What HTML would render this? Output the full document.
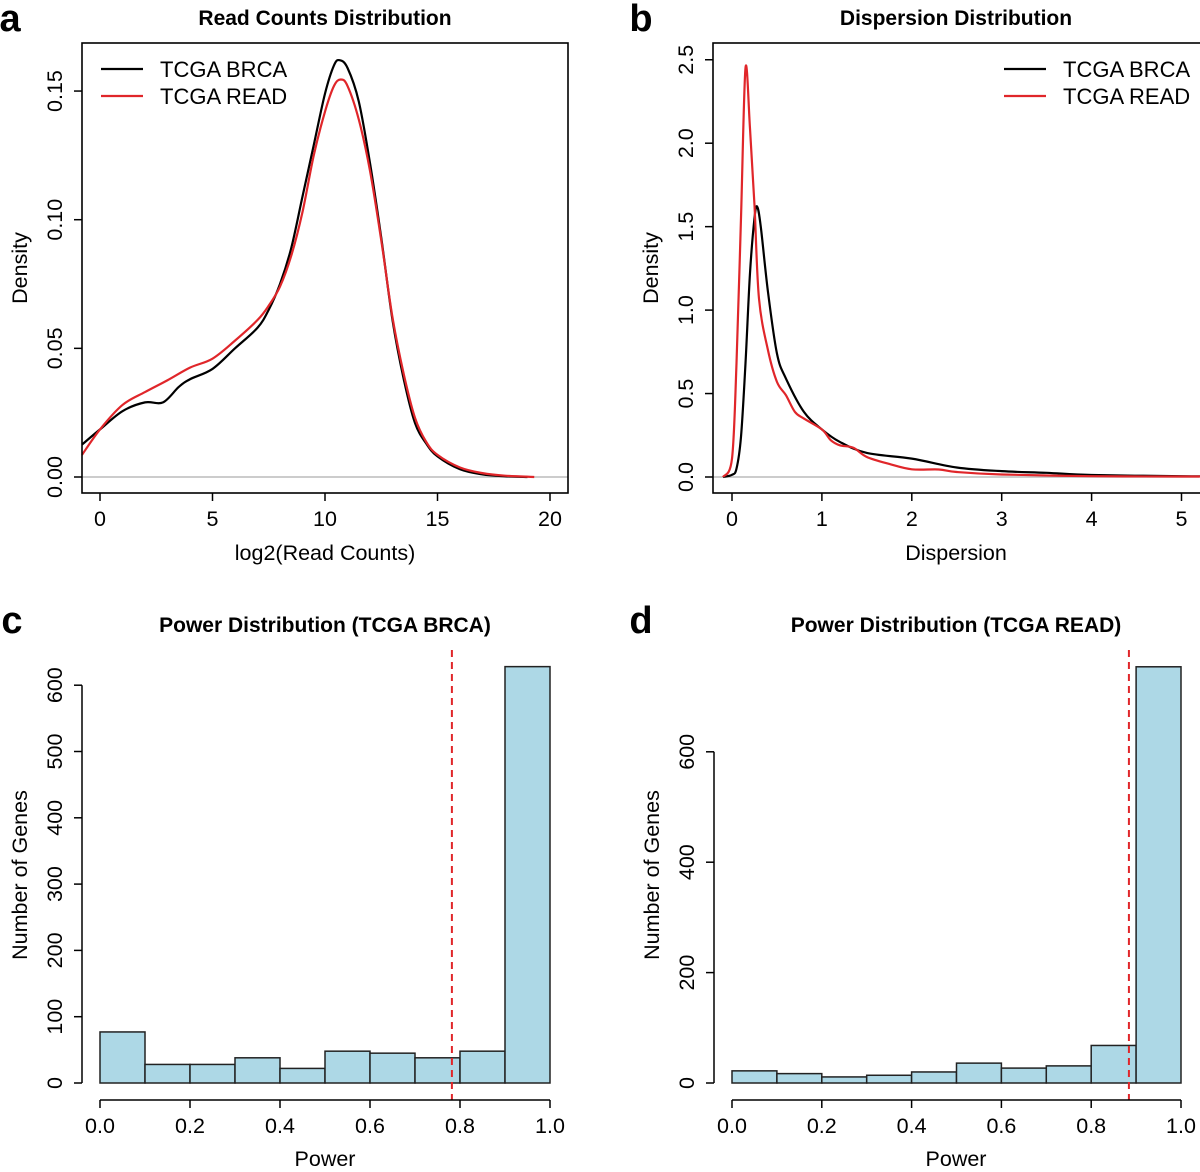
<!DOCTYPE html>
<html><head><meta charset="utf-8"><style>
body{margin:0;background:#fff}
svg text{font-family:"Liberation Sans",Arial,sans-serif;fill:#000}
</style></head><body>
<svg id="fig" width="1200" height="1167" viewBox="0 0 1200 1167" xmlns="http://www.w3.org/2000/svg"></svg>
<script>
// Panel a data
const aX = [-0.8,0,1,2,2.8,3.5,4,5,6,7,7.5,8,8.5,9,9.5,10,10.4,10.65,11,11.5,12,12.5,13,13.5,14,14.5,15,16,17,18,19];
const aBRCA = [0.0126,0.0185,0.0256,0.029,0.029,0.035,0.038,0.042,0.050,0.058,0.065,0.075,0.089,0.109,0.129,0.149,0.160,0.162,0.159,0.146,0.122,0.093,0.061,0.038,0.021,0.013,0.008,0.003,0.001,0.0003,0];
const aX2 = [-0.8,0,1,2,3,4,5,6,7,7.5,8,8.5,9,9.5,10,10.4,10.7,11,11.5,12,12.5,13,13.5,14,14.5,15,16,17,18,19.3];
const aREAD = [0.0086,0.0185,0.028,0.033,0.0376,0.0425,0.046,0.053,0.061,0.0666,0.074,0.086,0.103,0.125,0.142,0.152,0.1545,0.152,0.139,0.119,0.092,0.062,0.040,0.023,0.0136,0.0086,0.0037,0.0015,0.0005,0];
const aXTicks = [0,5,10,15,20];
const aYTicks = ["0.00","0.05","0.10","0.15"];
// Panel b data
const bX = [-0.1,0,0.05,0.1,0.15,0.2,0.25,0.28,0.32,0.4,0.5,0.6,0.8,1.0,1.2,1.5,2.0,2.5,3,3.5,4,5,5.3];
const bBRCA = [0,0.013,0.05,0.24,0.68,1.22,1.55,1.62,1.50,1.11,0.74,0.59,0.39,0.285,0.21,0.144,0.11,0.057,0.035,0.025,0.012,0.005,0.004];
const bX2 = [-0.1,0,0.05,0.1,0.15,0.2,0.25,0.3,0.4,0.5,0.6,0.7,0.8,1.0,1.1,1.2,1.35,1.5,1.75,2,2.3,2.5,3,4,5,5.3];
const bREAD = [0,0.11,0.68,1.55,2.45,2.09,1.63,1.07,0.76,0.57,0.49,0.39,0.35,0.285,0.22,0.19,0.175,0.12,0.078,0.046,0.045,0.03,0.015,0.005,0.003,0.003];
const bXTicks = [0,1,2,3,4,5];
const bYTicks = ["0.0","0.5","1.0","1.5","2.0","2.5"];
// Panel c/d data
const binStarts = [0,0.1,0.2,0.3,0.4,0.5,0.6,0.7,0.8,0.9];
const cCounts = [77,28,28,38,22,48,45,38,48,628];
const dCounts = [22,17,11,14,20,36,27,31,68,754];
const cThreshold = 0.782;
const dThreshold = 0.884;
const histXTicks = ["0.0","0.2","0.4","0.6","0.8","1.0"];
const cYTicks = [0,100,200,300,400,500,600];
const dYTicks = [0,200,400,600];

const NS="http://www.w3.org/2000/svg";
const svg=document.getElementById('fig');
const FT=21.5, FL=22, FTI=21;
function el(tag,attrs,parent,text){const e=document.createElementNS(NS,tag);for(const k in attrs)e.setAttribute(k,attrs[k]);if(text!==undefined)e.textContent=text;(parent||svg).appendChild(e);return e;}
function smooth(pts){let d='M'+pts[0][0]+','+pts[0][1];for(let i=0;i<pts.length-1;i++){const p0=pts[i-1]||pts[i],p1=pts[i],p2=pts[i+1],p3=pts[i+2]||p2;const c1x=p1[0]+(p2[0]-p0[0])/6,c1y=p1[1]+(p2[1]-p0[1])/6,c2x=p2[0]-(p3[0]-p1[0])/6,c2y=p2[1]-(p3[1]-p1[1])/6;d+=' C'+c1x+','+c1y+' '+c2x+','+c2y+' '+p2[0]+','+p2[1];}return d;}
function rotText(x,y,t,size,name){const e=el('text',{x:x,y:y,'font-size':size,'text-anchor':'middle',transform:'rotate(-90 '+x+' '+y+')'},svg,t);return e;}
function txt(x,y,t,size,name,extra){const a={x:x,y:y,'font-size':size,'text-anchor':'middle'};Object.assign(a,extra||{});const e=el('text',a,svg,t);return e;}

// ---- Panel a ----
(function(){
const sx=v=>100+v*22.5, sy=v=>477-v*2573;
txt(10,31,'a',38,'panel-label-a',{'font-weight':'bold'});
txt(325,25,'Read Counts Distribution',FTI,'chart-title-a',{'font-weight':'bold'});
el('line',{x1:82,x2:568,y1:sy(0),y2:sy(0),stroke:'#bbb','stroke-width':1.5});
let p=el('path',{d:smooth(aX.map((x,i)=>[sx(x),sy(aBRCA[i])])),fill:'none',stroke:'#000','stroke-width':2.2});

p=el('path',{d:smooth(aX2.map((x,i)=>[sx(x),sy(aREAD[i])])),fill:'none',stroke:'#e0262a','stroke-width':2.2});

const b=el('rect',{x:82,y:43,width:486,height:450,fill:'none',stroke:'#000','stroke-width':1.6});

aXTicks.forEach(t=>{el('line',{x1:sx(t),x2:sx(t),y1:493,y2:501,stroke:'#000','stroke-width':1.5});txt(sx(t),526,String(t),FT,'x-tick-a');});
aYTicks.forEach(t=>{const y=sy(parseFloat(t));el('line',{x1:74,x2:82,y1:y,y2:y,stroke:'#000','stroke-width':1.5});rotText(62,y,t,FT,'y-tick-a');});
txt(325,560,'log2(Read Counts)',FT,'x-axis-title-a');
rotText(27,268,'Density',FT,'y-axis-title-a');
el('line',{x1:101,x2:143,y1:69,y2:69,stroke:'#000','stroke-width':2.2});
el('line',{x1:101,x2:143,y1:96,y2:96,stroke:'#e0262a','stroke-width':2.2});
txt(160,77,'TCGA BRCA',FL,'legend-entry-brca-a',{'text-anchor':'start'});
txt(160,104,'TCGA READ',FL,'legend-entry-read-a',{'text-anchor':'start'});
})();

// ---- Panel b ----
(function(){
const sx=v=>732+v*89.9, sy=v=>477-v*166.9;
txt(641,31,'b',38,'panel-label-b',{'font-weight':'bold'});
txt(956,25,'Dispersion Distribution',FTI,'chart-title-b',{'font-weight':'bold'});
el('line',{x1:713,x2:1199,y1:sy(0),y2:sy(0),stroke:'#bbb','stroke-width':1.5});
let p=el('path',{d:smooth(bX.map((x,i)=>[sx(x),sy(bBRCA[i])])),fill:'none',stroke:'#000','stroke-width':2.2});

p=el('path',{d:smooth(bX2.map((x,i)=>[sx(x),sy(bREAD[i])])),fill:'none',stroke:'#e0262a','stroke-width':2.2});

const b=el('rect',{x:713,y:43,width:490,height:450,fill:'none',stroke:'#000','stroke-width':1.6});

bXTicks.forEach(t=>{el('line',{x1:sx(t),x2:sx(t),y1:493,y2:501,stroke:'#000','stroke-width':1.5});txt(sx(t),526,String(t),FT,'x-tick-b');});
bYTicks.forEach(t=>{const y=sy(parseFloat(t));el('line',{x1:705,x2:713,y1:y,y2:y,stroke:'#000','stroke-width':1.5});rotText(693,y,t,FT,'y-tick-b');});
txt(956,560,'Dispersion',FT,'x-axis-title-b');
rotText(658,268,'Density',FT,'y-axis-title-b');
el('line',{x1:1004,x2:1046,y1:69,y2:69,stroke:'#000','stroke-width':2.2});
el('line',{x1:1004,x2:1046,y1:96,y2:96,stroke:'#e0262a','stroke-width':2.2});
txt(1063,77,'TCGA BRCA',FL,'legend-entry-brca-b',{'text-anchor':'start'});
txt(1063,104,'TCGA READ',FL,'legend-entry-read-b',{'text-anchor':'start'});
})();

// ---- Histograms ----
function hist(opts){
const {x0,unit,yScale,counts,thr,yTicks,letter,lx,title,cx}=opts;
const sx=v=>x0+v*unit, sy=v=>1083-v*yScale;
txt(lx,633,letter,38,'panel-label-'+letter,{'font-weight':'bold'});
txt(cx,632,title,FTI,'chart-title-'+letter,{'font-weight':'bold'});
binStarts.forEach((s,i)=>{const r=el('rect',{x:sx(s),y:sy(counts[i]),width:sx(s+0.1)-sx(s),height:sy(0)-sy(counts[i]),fill:'#add8e6',stroke:'#222','stroke-width':1.5});
});
const l=el('line',{x1:sx(thr),x2:sx(thr),y1:650,y2:1100,stroke:'#e0262a','stroke-width':2,'stroke-dasharray':'7,5'});

el('line',{x1:sx(0),x2:sx(1),y1:1100,y2:1100,stroke:'#000','stroke-width':1.5});
histXTicks.forEach(t=>{const x=sx(parseFloat(t));el('line',{x1:x,x2:x,y1:1100,y2:1108,stroke:'#000','stroke-width':1.5});txt(x,1133,t,FT,'x-tick-'+letter);});
const ya=x0-18;
el('line',{x1:ya,x2:ya,y1:sy(0),y2:sy(yTicks[yTicks.length-1]),stroke:'#000','stroke-width':1.5});
yTicks.forEach(t=>{const y=sy(t);el('line',{x1:ya-8,x2:ya,y1:y,y2:y,stroke:'#000','stroke-width':1.5});rotText(ya-20,y,String(t),FT,'y-tick-'+letter);});
txt(cx,1166,'Power',FT,'x-axis-title-'+letter);
rotText(x0-73,875,'Number of Genes',FT,'y-axis-title-'+letter);
}
hist({x0:100,unit:450,yScale:0.663,counts:cCounts,thr:cThreshold,yTicks:cYTicks,letter:'c',lx:12,title:'Power Distribution (TCGA BRCA)',cx:325});
hist({x0:732,unit:449,yScale:0.552,counts:dCounts,thr:dThreshold,yTicks:dYTicks,letter:'d',lx:641,title:'Power Distribution (TCGA READ)',cx:956});
</script>
</body></html>
